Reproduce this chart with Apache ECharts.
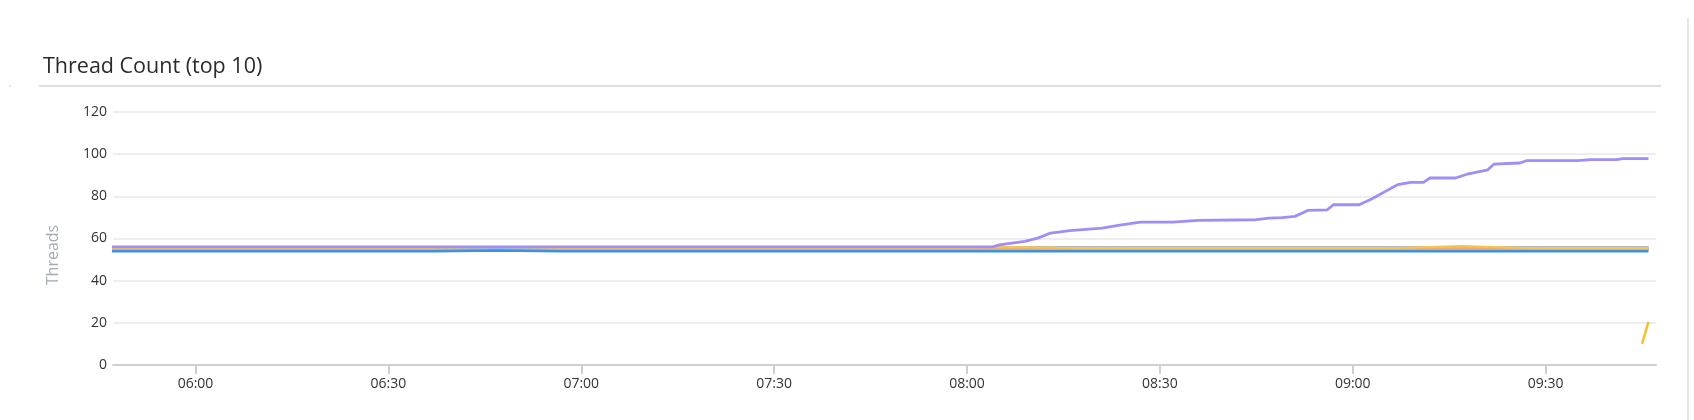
<!DOCTYPE html>
<html>
<head>
<meta charset="utf-8">
<script src="https://cdn.jsdelivr.net/npm/echarts@6/dist/echarts.min.js"></script>
<style>
html,body{margin:0;padding:0;background:#fff;}
#chart{width:1694px;height:420px;}
</style>
</head>
<body>
<div id="chart"></div>
<script>
// Time axis (minutes since midnight) shown from 05:47:10 to 09:47:10
var axisStart = "05:47:10";
var axisEnd = "09:47:10";
var tickLabels = ["06:00","06:30","07:00","07:30","08:00","08:30","09:00","09:30"];
var yTicks = [0, 20, 40, 60, 80, 100, 120];

// Shared sample times for the flat series
var times = ["05:47","05:57","06:07","06:17","06:27","06:37","06:47","06:57","07:07","07:17","07:27","07:37","07:47","07:57","08:07","08:17","08:27","08:37","08:47","08:57","09:07","09:17","09:27","09:37","09:46"];

var seriesTan    = [55.5,55.5,55.5,55.5,55.5,55.5,55.5,55.5,55.5,55.5,55.5,55.5,55.5,55.5,55.5,55.5,55.5,55.5,55.5,55.5,55.5,55.5,55.5,55.5,55.5];
var seriesYellow = [55.5,55.5,55.5,55.5,55.5,55.5,55.5,55.5,55.5,55.5,55.5,55.5,55.5,55.5,56,55.5,55.5,55.5,55.5,55.5,55.5,56.5,55.5,55.5,55.5];
var seriesGray   = [56,56,56,55.5,56,56,56,56,56,56,56,55.5,56,56,56,56,56,56,56,56,56,56,56,56,56];
var seriesLav    = [56,55.5,56,56,55.5,56,56,56,55.5,56,56,56,56,56,55.5,56,56,56,56,56,56,56,56,55.5,56];
var seriesGreen  = [55,55,55,55,55,55,55,55,55,55,55,55,55,55,55,55,55,55,55,55,55,55,55,55,55];
var seriesOrange = [55,55,55,55,55,55,55,55,55,55,55,55,55,55,55,55,55,55,55,55,55,55,55,55,55];
var seriesLBlue  = [54.5,54.5,54.5,54.5,54.5,54.5,55,54.5,54.5,54.5,54.5,54.5,54.5,54.5,54.5,54.5,54.5,54.5,54.5,54.5,54.5,54.5,54.5,54.5,54.5];
var seriesBlue   = [54,54,54,54,54,54,54.3,54,54,54,54,54,54,54,54,54,54,54,54,54,54,54,54,54,54];

// Rising series (own sample times)
var purpleTimes  = ["05:47","06:47","07:47","08:04","08:05","08:09","08:11","08:13","08:16","08:21","08:24","08:27","08:32","08:36","08:45","08:47","08:49","08:51","08:53","08:56","08:57","09:01","09:03","09:06","09:07","09:09","09:11","09:12","09:16","09:18","09:21","09:22","09:26","09:27","09:35","09:37","09:41","09:42","09:46"];
var purpleValues = [56,56,56,56,57,58.6,60.2,62.6,63.7,64.9,66.5,67.8,67.8,68.6,68.9,69.7,69.9,70.5,73.3,73.6,76,76,78.9,83.9,85.5,86.6,86.6,88.7,88.7,90.7,92.6,95.3,95.8,96.9,96.9,97.4,97.4,97.9,97.9];

// Late-starting series
var newTimes  = ["09:45","09:46"];
var newValues = [10, 20.5];

function toMin(s){
  var p = s.split(":").map(Number);
  return p[0]*60 + p[1] + (p[2] ? p[2]/60 : 0);
}
function fmt(m){
  var h = Math.floor(m/60), mm = Math.round(m - h*60);
  return (h<10?"0":"")+h+":"+(mm<10?"0":"")+mm;
}
function pairs(ts, vs){ return ts.map(function(t,i){ return [toMin(t), vs[i]]; }); }

var tickVals = tickLabels.map(toMin);

function line(name, color, ts, vs, w){
  return {
    name: name, type: 'line', data: pairs(ts, vs), showSymbol: false, symbol: 'none',
    lineStyle: {color: color, width: w || 2}, itemStyle: {color: color}
  };
}

var chart = echarts.init(document.getElementById('chart'), null, {renderer: 'canvas'});
chart.setOption({
  animation: false,
  backgroundColor: '#ffffff',
  textStyle: {fontFamily: 'Open Sans'},
  title: {
    text: 'Thread Count (top 10)', left: 43, top: 56, padding: 0,
    textStyle: {fontFamily: 'Open Sans', fontSize: 21.5, fontWeight: 'normal', color: '#2b2b2b'}
  },
  graphic: [
    {type: 'line', shape: {x1: 39, y1: 86, x2: 1661, y2: 86}, style: {stroke: '#dedede', lineWidth: 2}},
    {type: 'line', shape: {x1: 1688, y1: 18, x2: 1688, y2: 420}, style: {stroke: '#e6e6e6', lineWidth: 2}},
    {type: 'circle', shape: {cx: 10, cy: 86, r: 1}, style: {fill: '#d8d8d8'}}
  ],
  grid: {left: 113, right: 38, top: 112, bottom: 55},
  xAxis: {
    type: 'value', min: toMin(axisStart), max: toMin(axisEnd),
    axisLine: {show: true, lineStyle: {color: '#cfcfcf', width: 2}},
    axisTick: {show: true, customValues: tickVals, length: 9, lineStyle: {color: '#cfcfcf', width: 2}},
    axisLabel: {customValues: tickVals, formatter: function(v){ return fmt(v); }, color: '#333', fontSize: 14, margin: 12, fontFamily: 'Open Sans'},
    splitLine: {show: false}
  },
  yAxis: {
    type: 'value', min: yTicks[0], max: yTicks[yTicks.length-1], interval: 20,
    name: 'Threads', nameLocation: 'middle', nameGap: 52,
    nameTextStyle: {color: '#a3abb3', fontSize: 16, fontFamily: 'Open Sans', padding: [0, 33, 0, 0]},
    axisLine: {show: false}, axisTick: {show: false},
    axisLabel: {color: '#333', fontSize: 14, margin: 6, fontFamily: 'Open Sans'},
    splitLine: {lineStyle: {color: '#eeeeee', width: 2}}
  },
  series: [
    line('lavender', '#c6b3f0', times, seriesLav),
    line('gray', '#b4b4c4', times, seriesGray),
    line('tan', '#d8bd86', times, seriesTan),
    line('green', '#86c7a8', times, seriesGreen),
    line('orange', '#f3a863', times, seriesOrange),
    line('yellow', '#f4c64f', times, seriesYellow),
    line('lightblue', '#86c6ee', times, seriesLBlue),
    line('blue', '#3f8fe2', times, seriesBlue, 2.5),
    line('purple', '#a28cf6', purpleTimes, purpleValues, 2.8),
    line('new', '#f2c230', newTimes, newValues, 2.5)
  ]
});
</script>
</body>
</html>
